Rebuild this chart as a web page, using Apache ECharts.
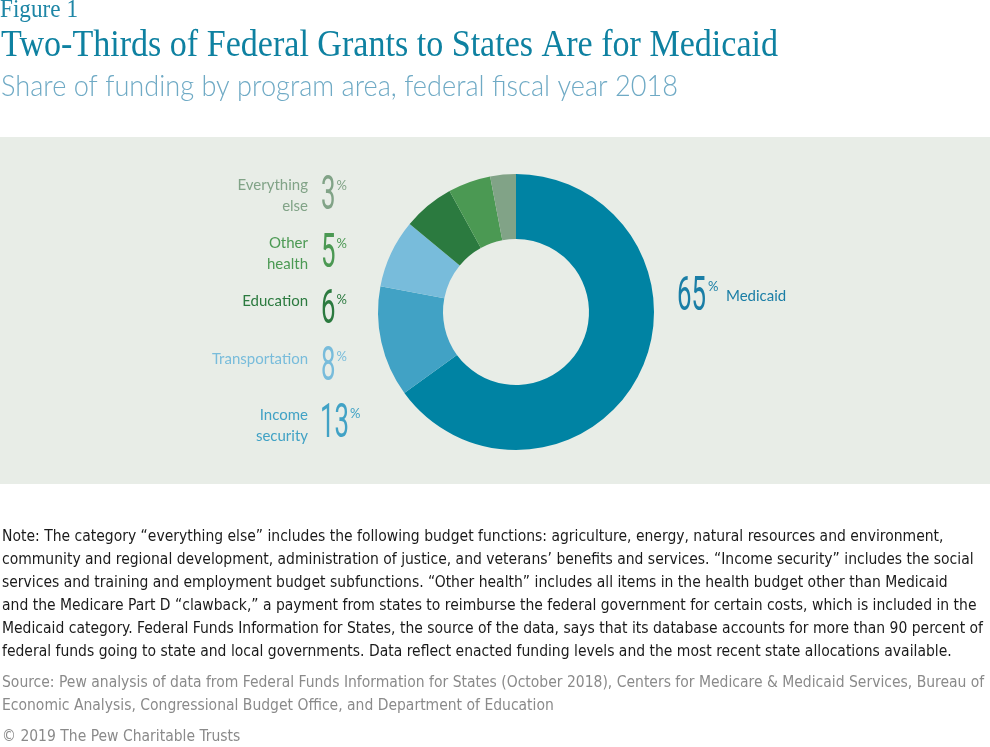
<!DOCTYPE html>
<html>
<head>
<meta charset="utf-8">
<script src="https://cdn.jsdelivr.net/npm/echarts@6/dist/echarts.min.js"></script>
<style>
html,body{margin:0;padding:0;background:#fff;}
#chart{width:990px;height:747px;}
</style>
</head>
<body>
<div id="chart"></div>
<script>
// ---- data ----
var categories = ['Medicaid', 'Income security', 'Transportation', 'Education', 'Other health', 'Everything else'];
var labelNames = ['Medicaid', 'Income\nsecurity', 'Transportation', 'Education', 'Other\nhealth', 'Everything\nelse'];
var values = [65, 13, 8, 6, 5, 3];

var titleText = 'Two-Thirds of Federal Grants to States Are for Medicaid';
var subtitleText = 'Share of funding by program area, federal fiscal year 2018';
var figureText = 'Figure 1';
var noteLines = [
  'Note: The category \u201ceverything else\u201d includes the following budget functions: agriculture, energy, natural resources and environment,',
  'community and regional development, administration of justice, and veterans\u2019 benefits and services. \u201cIncome security\u201d includes the social',
  'services and training and employment budget subfunctions. \u201cOther health\u201d includes all items in the health budget other than Medicaid',
  'and the Medicare Part D \u201cclawback,\u201d a payment from states to reimburse the federal government for certain costs, which is included in the',
  'Medicaid category. Federal Funds Information for States, the source of the data, says that its database accounts for more than 90 percent of',
  'federal funds going to state and local governments. Data reflect enacted funding levels and the most recent state allocations available.'
];
var sourceLines = [
  'Source: Pew analysis of data from Federal Funds Information for States (October 2018), Centers for Medicare & Medicaid Services, Bureau of',
  'Economic Analysis, Congressional Budget Office, and Department of Education'
];
var copyrightText = '\u00a9 2019 The Pew Charitable Trusts';

// ---- styles / layout ----
var colors = ['#0083A3', '#41A2C5', '#78BCDB', '#2B7A3F', '#4B9953', '#81A387'];
var labelColors = ['#1A7EA6', '#41A2C5', '#78BCDB', '#2B7A3F', '#4B9953', '#81A387'];
var NUM_FONT = 'Roboto, "Liberation Sans", sans-serif';
var NOTE_FONT = '"Liberation Sans Narrow", "DejaVu Sans Condensed", "Liberation Sans", sans-serif';
var LABEL_FONT = 'Lato, "Open Sans", sans-serif';

var ctx = document.createElement('canvas').getContext('2d');
function measure(text, font) { ctx.font = font; return ctx.measureText(text).width; }
function fitScale(text, font, target) { return target / measure(text, font); }

// left column label positions (number left x, number center y, name center y)
var labelPos = [
  null,
  {nx: 320, ny: 425, my: 426},
  {nx: 321, ny: 368, my: 359},
  {nx: 321, ny: 311, my: 301},
  {nx: 321, ny: 255, my: 254},
  {nx: 321, ny: 197, my: 196}
];

var numFontStr = '400 48px ' + NUM_FONT;
var digitW = 14.5;
var numScale = digitW / measure('0', numFontStr);

var graphics = [];
// background panel
graphics.push({type: 'rect', z: -10, shape: {x: 0, y: 137, width: 990, height: 347}, style: {fill: '#E8EDE7'}});

function txt(text, x, y, font, fill, align, sx) {
  return {type: 'text', x: x, y: y, scaleX: sx || 1, z: 10,
    style: {text: text, font: font, fill: fill, textAlign: align || 'left', textVerticalAlign: 'middle', align: align || 'left', verticalAlign: 'middle', lineHeight: 21}};
}

// titles
var figFont = '26px "Liberation Serif", serif';
graphics.push(txt(figureText, 0, 10, figFont, '#1E86A6', 'left', fitScale(figureText, figFont, 78)));
var titleFont = '38px "Liberation Serif", serif';
graphics.push(txt(titleText, 1, 46, titleFont, '#0E81A1', 'left', fitScale(titleText, titleFont, 777)));
var subFont = '300 30px Lato, "Open Sans", sans-serif';
graphics.push(txt(subtitleText, 1, 86, subFont, '#6FAAC5', 'left', fitScale(subtitleText, subFont, 677)));

// labels
for (var i = 0; i < categories.length; i++) {
  var numStr = String(values[i]);
  if (i === 0) {
    var nx = 677, ny = 298;
    graphics.push(txt(numStr, nx, ny, numFontStr, labelColors[i], 'left', numScale));
    graphics.push(txt('%', nx + numStr.length * digitW + 2, ny - 11, '13px ' + LABEL_FONT, labelColors[i], 'left'));
    graphics.push(txt(labelNames[i], 726, 296, '15px ' + LABEL_FONT, labelColors[i], 'left'));
  } else {
    var p = labelPos[i];
    graphics.push(txt(numStr, p.nx, p.ny, numFontStr, labelColors[i], 'left', numScale));
    graphics.push(txt('%', p.nx + numStr.length * digitW + 1, p.ny - 11, '13px ' + LABEL_FONT, labelColors[i], 'left'));
    graphics.push(txt(labelNames[i], 308, p.my, '15px ' + LABEL_FONT, labelColors[i], 'right'));
  }
}

// notes
var noteFont = '16.5px ' + NOTE_FONT;
var noteScale = fitScale(noteLines[4], noteFont, 981);
for (var k = 0; k < noteLines.length; k++) {
  graphics.push(txt(noteLines[k], 2, 537 + k * 23, noteFont, '#1A1A1A', 'left', noteScale));
}
for (var s = 0; s < sourceLines.length; s++) {
  graphics.push(txt(sourceLines[s], 2, 683 + s * 23, noteFont, '#8A8A8A', 'left', noteScale));
}
graphics.push(txt(copyrightText, 2, 737, noteFont, '#8A8A8A', 'left', noteScale));

var chart = echarts.init(document.getElementById('chart'), null, {renderer: 'canvas'});
chart.setOption({
  animation: false,
  backgroundColor: '#ffffff',
  graphic: {elements: graphics},
  series: [{
    type: 'pie',
    center: [516, 312],
    radius: [73, 138],
    startAngle: 90,
    clockwise: true,
    silent: true,
    label: {show: false},
    labelLine: {show: false},
    emphasis: {disabled: true},
    data: categories.map(function (c, i) {
      return {name: c, value: values[i], itemStyle: {color: colors[i]}};
    })
  }]
});
</script>
</body>
</html>
